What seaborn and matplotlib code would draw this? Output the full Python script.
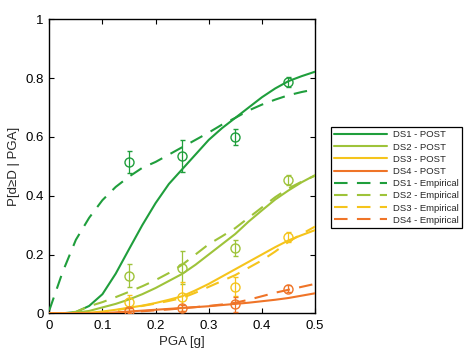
import numpy as np
import pandas as pd
import matplotlib
matplotlib.use("Agg")
import matplotlib.pyplot as plt
import seaborn as sns

# ---------------- data ----------------
pga_grid = [0.0, 0.025, 0.05, 0.075, 0.1, 0.125, 0.15, 0.175, 0.2, 0.225, 0.25,
            0.275, 0.3, 0.325, 0.35, 0.375, 0.4, 0.425, 0.45, 0.475, 0.5]

ds1_post = [0.0, 0.0, 0.004, 0.025, 0.065, 0.135, 0.218, 0.30, 0.375, 0.44, 0.49,
            0.54, 0.59, 0.63, 0.665, 0.70, 0.735, 0.765, 0.79, 0.807, 0.822]
ds2_post = [0.0, 0.0, 0.002, 0.008, 0.02, 0.032, 0.047, 0.065, 0.086, 0.11, 0.134,
            0.165, 0.20, 0.235, 0.27, 0.312, 0.35, 0.387, 0.418, 0.446, 0.47]
ds3_post = [0.0, 0.0, 0.0, 0.002, 0.006, 0.012, 0.019, 0.026, 0.035, 0.046, 0.058,
            0.078, 0.10, 0.125, 0.15, 0.175, 0.20, 0.225, 0.248, 0.266, 0.283]
ds4_post = [0.0, 0.0, 0.0, 0.0, 0.0, 0.003, 0.006, 0.009, 0.012, 0.015, 0.018,
            0.021, 0.024, 0.028, 0.032, 0.036, 0.041, 0.046, 0.052, 0.06, 0.068]

ds1_emp = [0.01, 0.14, 0.25, 0.325, 0.385, 0.43, 0.465, 0.495, 0.515, 0.54, 0.565,
           0.59, 0.615, 0.642, 0.665, 0.69, 0.71, 0.727, 0.742, 0.753, 0.762]
ds2_emp = [0.0, 0.0, 0.005, 0.024, 0.038, 0.055, 0.073, 0.092, 0.113, 0.137, 0.165,
           0.20, 0.235, 0.262, 0.29, 0.325, 0.36, 0.395, 0.425, 0.448, 0.468]
ds3_emp = [0.0, 0.0, 0.0, 0.0, 0.003, 0.01, 0.018, 0.025, 0.033, 0.042, 0.052,
           0.07, 0.09, 0.11, 0.13, 0.155, 0.18, 0.21, 0.243, 0.27, 0.295]
ds4_emp = [0.0, 0.0, 0.0, 0.0, 0.0, 0.002, 0.004, 0.007, 0.01, 0.013, 0.017,
           0.021, 0.025, 0.03, 0.036, 0.046, 0.058, 0.07, 0.08, 0.09, 0.10]

obs_pga = [0.15, 0.25, 0.35, 0.45]
ds1_obs = [0.515, 0.535, 0.600, 0.787]
ds2_obs = [0.128, 0.155, 0.223, 0.453]
ds3_obs = [0.040, 0.057, 0.090, 0.258]
ds4_obs = [0.009, 0.017, 0.030, 0.084]
ds1_err = [0.036, 0.055, 0.026, 0.016]
ds2_err = [0.040, 0.057, 0.027, 0.017]
ds3_err = [0.022, 0.048, 0.032, 0.017]
ds4_err = [0.008, 0.010, 0.026, 0.012]

damage_states = ["DS1", "DS2", "DS3", "DS4"]
colors = ["#1f9e3c", "#9ec33a", "#f5c41c", "#ef7428"]

x_ticks = [0, 0.1, 0.2, 0.3, 0.4, 0.5]
x_tick_labels = ["0", "0.1", "0.2", "0.3", "0.4", "0.5"]
y_ticks = [0, 0.2, 0.4, 0.6, 0.8, 1.0]
y_tick_labels = ["0", "0.2", "0.4", "0.6", "0.8", "1"]

# ---------------- plot ----------------
sns.set_style("ticks")
plt.rcParams["font.family"] = ["Liberation Sans", "DejaVu Sans"]

fig = plt.figure(figsize=(4.74, 3.53), dpi=100)
ax = fig.add_axes([0.104, 0.1125, 0.5606, 0.8325])

post = [ds1_post, ds2_post, ds3_post, ds4_post]
emp = [ds1_emp, ds2_emp, ds3_emp, ds4_emp]
obs = [ds1_obs, ds2_obs, ds3_obs, ds4_obs]
errs = [ds1_err, ds2_err, ds3_err, ds4_err]

for ds, c, y in zip(damage_states, colors, post):
    df = pd.DataFrame({"PGA": pga_grid, "P": y})
    sns.lineplot(data=df, x="PGA", y="P", color=c, lw=1.5, ax=ax,
                 label=f"{ds} - POST", zorder=3)
for ds, c, y in zip(damage_states, colors, emp):
    df = pd.DataFrame({"PGA": pga_grid, "P": y})
    sns.lineplot(data=df, x="PGA", y="P", color=c, lw=1.5, ax=ax,
                 label=f"{ds} - Empirical", zorder=3,
                 dashes=False, linestyle=(0, (6.5, 4.5)))
for c, y, e in zip(colors, obs, errs):
    ax.errorbar(obs_pga, y, yerr=e, fmt="o", mfc="none", mec=c, ecolor=c,
                ms=6.5, mew=1.0, elinewidth=0.9, capsize=1.8, capthick=0.9,
                zorder=4)

ax.set_xlim(0, 0.5)
ax.set_ylim(0, 1)
ax.set_xticks(x_ticks)
ax.set_xticklabels(x_tick_labels)
ax.set_yticks(y_ticks)
ax.set_yticklabels(y_tick_labels)
ax.tick_params(direction="in", length=3.5, width=0.8, top=True, right=True,
               labelsize=9.5, colors="black")
ax.tick_params(axis="x", pad=5)
ax.tick_params(axis="y", pad=4)
for s in ax.spines.values():
    s.set_visible(True)
    s.set_linewidth(1.0)
    s.set_color("black")
ax.set_xlabel("PGA [g]", fontsize=9.5, labelpad=3)
ax.set_ylabel("P[d\u2265D | PGA]", fontsize=9.5, labelpad=4)

handles, labels = ax.get_legend_handles_labels()
if ax.legend_:
    ax.legend_.remove()
leg = fig.legend(handles, labels, loc="upper left",
                 bbox_to_anchor=(331 / 474, 1 - 127 / 353),
                 fontsize=6.8, frameon=True, fancybox=False, edgecolor="black",
                 framealpha=1, handlelength=5.6, handletextpad=0.6,
                 labelspacing=0.34, borderpad=0.35, borderaxespad=0)
leg.get_frame().set_linewidth(0.9)

fig.savefig("out.png", dpi=100)
